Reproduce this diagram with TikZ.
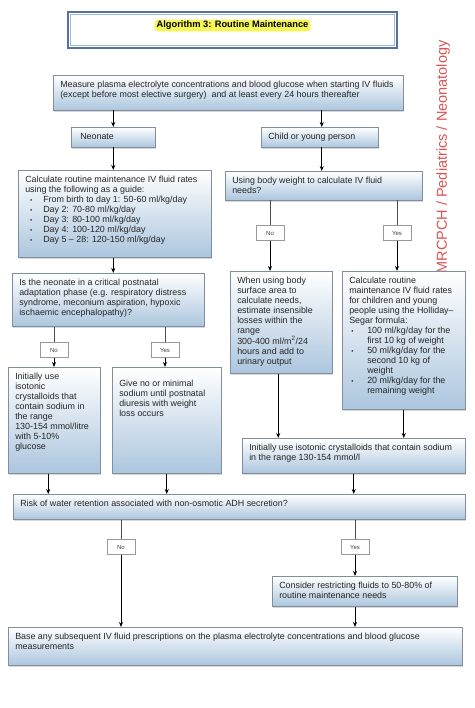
\documentclass[tikz,border=0pt]{standalone}
\usepackage{fontspec}
\setmainfont{Liberation Sans}
\usetikzlibrary{arrows.meta,calc,shadows}
\definecolor{boxblue}{RGB}{172,198,222}
\definecolor{boxline}{RGB}{128,142,158}
\definecolor{frameblue}{RGB}{84,114,156}
\definecolor{framelight}{RGB}{160,184,214}
\definecolor{markred}{RGB}{218,84,84}
\definecolor{hilite}{RGB}{246,246,86}
\newcommand{\boxtxt}[4][t]{\parbox[c][#3][#1]{#2}{\begin{tabular}[t]{@{}l@{}}#4\end{tabular}}}
\newcommand{\bul}[1][4pt]{\hspace*{#1}\makebox[\dimexpr18pt-#1\relax][l]{\scalebox{0.7}{\textbullet}}}
\newcommand{\cont}{\hspace*{18pt}}

\begin{document}
\begin{tikzpicture}[x=1pt, y=-1pt,
  box/.style={draw=boxline, line width=0.5pt, top color=white, bottom color=boxblue,
    drop shadow={shadow xshift=1.2pt, shadow yshift=-1.5pt, fill=black!30},
    anchor=north west, inner xsep=7pt, inner ysep=5pt, text=black!85,
    font=\fontsize{8.9}{10}\selectfont},
  tag/.style={draw=gray!80, fill=white, inner sep=0pt, minimum width=28pt,
    minimum height=15pt, text=black!75, font=\fontsize{6}{7}\selectfont},
  link/.style={draw=black!70, line width=0.6pt},
  arr/.style={draw=black, line width=0.9pt, -{Stealth[length=5pt,width=4pt]}}]

  \useasboundingbox[fill=white] (0,0) rectangle (474,708);

  % Title frame
  \draw[frameblue, line width=2pt] (68,12) rectangle (397,48);
  \draw[framelight, line width=1pt] (70.8,14.8) rectangle (394.2,45.2);
  \node[fill=hilite, rounded corners=3pt, inner xsep=2pt, inner ysep=1.5pt,
    font=\bfseries\fontsize{9.3}{11}\selectfont] (title) at (232.5,25.5) {Algorithm 3: Routine Maintenance};
  \node[rotate=90, text=markred, font=\fontsize{14.5}{16}\selectfont] (watermark) at (443,157) {MRCPCH / Pediatrics / Neonatology};

  % Define coordinates for nodes
  \node[box] (measure) at (53,75) {\boxtxt{336pt}{25pt}{Measure plasma electrolyte concentrations and blood glucose when starting IV fluids\\ (except before most elective surgery)\ \ and at least every 24 hours thereafter}};
  \node[box] (neonate) at (71,127) {\boxtxt[c]{70pt}{10pt}{\hspace*{2pt}Neonate}};
  \node[box] (child) at (261,127) {\boxtxt[c]{103pt}{10pt}{Child or young person}};
  \node[box] (calc) at (18,170) {\boxtxt{179pt}{77pt}{Calculate routine maintenance IV fluid rates\\ using the following as a guide:\\
    \bul[5pt]From birth to day 1: 50-60 ml/kg/day\\ \bul[5pt]Day 2: 70-80 ml/kg/day\\ \bul[5pt]Day 3: 80-100 ml/kg/day\\
    \bul[5pt]Day 4: 100-120 ml/kg/day\\ \bul[5pt]Day 5 -- 28: 120-150 ml/kg/day}};
  \node[box] (usingbw) at (225,171) {\boxtxt{183pt}{19pt}{Using body weight to calculate IV fluid\\ needs?}};
  \node[box] (isneo) at (12,273) {\boxtxt{178pt}{43pt}{Is the neonate in a critical postnatal\\ adaptation phase (e.g. respiratory distress\\ syndrome, meconium aspiration, hypoxic\\ ischaemic encephalopathy)?}};
  \node[box] (bsa) at (230,271) {\boxtxt{88pt}{92pt}{When using body\\ surface area to\\ calculate needs,\\ estimate insensible\\ losses within the\\ range\\ 300-400 ml/m\textsuperscript{2}/24\\ hours and add to\\ urinary output}};
  \node[box] (holliday) at (342,271) {\boxtxt{109pt}{128pt}{Calculate routine\\ maintenance IV fluid rates\\ for children and young\\ people using the Holliday--\\ Segar formula:\\
    \bul[2pt]100 ml/kg/day for the\\ \cont first 10 kg of weight\\ \bul[2pt]50 ml/kg/day for the\\ \cont second 10 kg of\\ \cont weight\\
    \bul[2pt]20 ml/kg/day for the\\ \cont remaining weight}};
  \node[box] (isoneo) at (8,367) {\boxtxt{78pt}{96pt}{Initially use\\ isotonic\\ crystalloids that\\ contain sodium in\\ the range\\ 130-154 mmol/litre\\ with 5-10\%\\ glucose}};
  \node[box] (givenone) at (112,367) {\boxtxt{95pt}{96pt}{\\[-3pt] Give no or minimal\\ sodium until postnatal\\ diuresis with weight\\ loss occurs}};
  \node[box] (isochild) at (242,438) {\boxtxt{209pt}{25pt}{Initially use isotonic crystalloids that contain sodium\\ in the range 130-154 mmol/l}};
  \node[box] (risk) at (13,494) {\boxtxt{438pt}{15pt}{Risk of water retention associated with non-osmotic ADH secretion?}};
  \node[box] (restrict) at (272,576) {\boxtxt{171pt}{20pt}{Consider restricting fluids to 50-80\% of\\ routine maintenance needs}};
  \node[box] (base) at (8,627) {\boxtxt{440pt}{28pt}{Base any subsequent IV fluid prescriptions on the plasma electrolyte concentrations and blood glucose\\ measurements}};

  \node[tag] (noA) at (270,233) {No};
  \node[tag] (yesA) at (397,233) {Yes};
  \node[tag] (noB) at (54,350) {No};
  \node[tag] (yesB) at (165,350) {Yes};
  \node[tag] (noC) at (121,547) {No};
  \node[tag] (yesC) at (355,547) {Yes};

  % Draw arrows between nodes
  \draw[arr] (measure.south -| neonate) -- (neonate.north);
  \draw[arr] ([xshift=2pt]measure.south -| child) -- ([xshift=2pt]child.north);
  \draw[arr] (neonate.south) -- (neonate.south |- calc.north);
  \draw[arr] ([xshift=2pt]child.south) -- ([xshift=2pt]child.south |- usingbw.north);
  \draw[arr] (neonate.south |- calc.south) -- (neonate.south |- isneo.north);

  \draw[link] (usingbw.south -| noA) -- (noA.north);
  \draw[arr] (noA.south) -- (noA.south |- bsa.north);
  \draw[link] (usingbw.south -| yesA) -- (yesA.north);
  \draw[arr] (yesA.south) -- (yesA.south |- holliday.north);
  \draw[link] (isneo.south -| noB) -- (noB.north);
  \draw[arr] (noB.south) -- (noB.south |- isoneo.north);
  \draw[link] (isneo.south -| yesB) -- (yesB.north);
  \draw[arr] (yesB.south) -- (yesB.south |- givenone.north);

  \draw[arr] ([xshift=-3pt]bsa.south) -- ([xshift=-3pt]bsa.south |- isochild.north);
  \draw[arr] (holliday.south) -- (holliday.south |- isochild.north);
  \draw[arr] ([xshift=-6pt]isoneo.south) -- ([xshift=-6pt]isoneo.south |- risk.north);
  \draw[arr] (givenone.south) -- (givenone.south |- risk.north);
  \draw[arr] (isochild.south) -- (isochild.south |- risk.north);

  \draw[link] (risk.south -| noC) -- (noC.north);
  \draw[arr] (noC.south) -- (noC.south |- base.north);
  \draw[link] (risk.south -| yesC) -- (yesC.north);
  \draw[arr] (yesC.south) -- (yesC.south |- restrict.north);
  \draw[arr] (restrict.south -| yesC) -- (base.north -| yesC);
\end{tikzpicture}
\end{document}
